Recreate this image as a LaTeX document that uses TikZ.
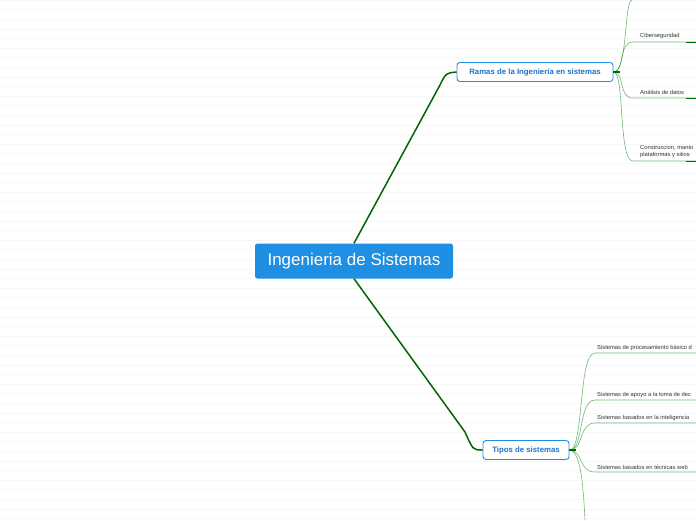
\documentclass[tikz,border=0pt]{standalone}
\usepackage{fontspec}
\setmainfont{Liberation Sans}
\definecolor{cblue}{HTML}{1E8FE3}
\definecolor{tblue}{HTML}{1B74C9}
\begin{document}
\begin{tikzpicture}[x=1pt,y=-1pt,
 leaf/.style={anchor=south west,inner sep=0pt,font=\fontsize{5.8}{7}\selectfont,text=black!80,align=left},
 sub/.style={draw=cblue,fill=white,rounded corners=3pt,line width=0.9pt,font=\fontsize{7.8}{8}\selectfont\bfseries,text=tblue,inner xsep=8pt,inner ysep=0pt,minimum height=19pt},
 thin/.style={draw=green!50!black,line width=0.6pt,opacity=0.55},
 thick/.style={draw=green!40!black,line width=1.5pt}]
\useasboundingbox (0,0) rectangle (696,520);
\fill[white] (0,0) rectangle (696,520);
\foreach \i in {0,...,54} \draw[black!3,line width=0.4pt] (0,\i*9.6) -- (696,\i*9.6);
\node[fill=cblue,rounded corners=2.5pt,text=white,font=\fontsize{17}{19}\selectfont,minimum width=198pt,minimum height=35pt] (c) at (354,261) {Ingenieria de Sistemas};
\node[sub,minimum width=156pt] (r) at (535,72) {Ramas de la Ingeniería en sistemas};
\node[sub,minimum width=86pt] (t) at (526,450) {Tipos de sistemas};
\draw[thick] (c.north) -- (440,85) .. controls (446,73) .. (r.west);
\draw[thick] (c.south) -- (465,432) .. controls (473,450) .. (t.west);
% ramas children
\coordinate (r0) at (632,0);
\node[leaf] (r1) at (640,39) {Ciberseguridad};
\node[leaf] (r2) at (640,95) {Análisis de datos};
\node[leaf] (r3) at (640,158) {Construccion, manto\\plataformas y sitios};
\draw[thin] (r.east) .. controls (628,72) and (624,0) .. (r0);
\foreach \n/\y in {r1/42,r2/98,r3/161}
  \draw[thin] (r.east) .. controls (625,72) and (618,\y) .. (633,\y) -- (696,\y);
\foreach \y in {42,98,161} \draw[green!40!black,line width=1pt] (686,\y) -- (696,\y);
\draw[green!40!black,line width=1.2pt] (r.east) -- ++(7,0);
% tipos children
\node[leaf] (t1) at (597,351) {Sistemas de procesamiento básico d};
\node[leaf] (t2) at (597,398) {Sistemas de apoyo a la toma de dec};
\node[leaf] (t3) at (597,421) {Sistemas basados en la inteligencia};
\node[leaf] (t4) at (597,470) {Sistemas basados en técnicas web};
\coordinate (t5) at (585,520);
\foreach \n/\y in {t1/353,t2/400,t3/423,t4/472}
  \draw[thin] (t.east) .. controls (584,451) and (578,\y) .. (595,\y) -- (696,\y);
\draw[thin] (t.east) .. controls (580,451) and (583,480) .. (t5);
\draw[green!40!black,line width=1.2pt] (t.east) -- ++(7,0);
\end{tikzpicture}
\end{document}
